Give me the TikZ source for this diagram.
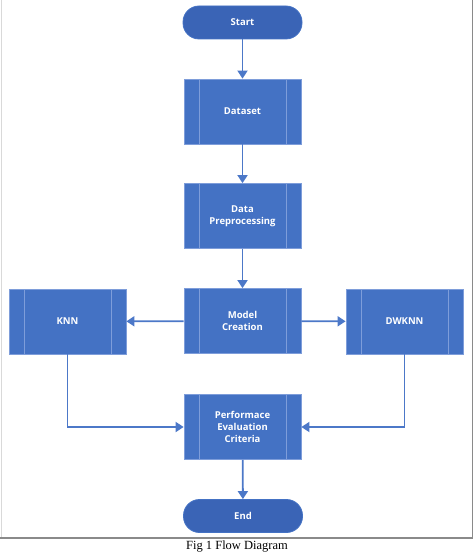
\documentclass[tikz,border=0pt]{standalone}
\usepackage{fontspec}
\setmainfont{Liberation Serif}
\newfontfamily\boxfont{Open Sans}
\usetikzlibrary{arrows.meta}
\definecolor{boxblue}{HTML}{4472C4}
\definecolor{termblue}{HTML}{3A64B6}
\definecolor{edgeblue}{HTML}{7E9DDA}
\definecolor{arrblue}{HTML}{4C78C8}
\definecolor{frame}{HTML}{8A8A8A}
\tikzset{
  procbox/.style={draw=edgeblue, line width=0.8pt, fill=boxblue, minimum width=117pt, minimum height=65pt,
    text=white, align=center, font=\boxfont\bfseries\fontsize{9.5}{12}\selectfont, inner sep=0pt,
    path picture={
      \draw[edgeblue, line width=0.8pt] ([xshift=15pt]path picture bounding box.north west) -- ([xshift=15pt]path picture bounding box.south west);
      \draw[edgeblue, line width=0.8pt] ([xshift=-15pt]path picture bounding box.north east) -- ([xshift=-15pt]path picture bounding box.south east);
    }},
  termbox/.style={draw=boxblue, line width=0.8pt, fill=termblue, rounded corners=16pt, minimum width=119pt, minimum height=33pt,
    text=white, font=\boxfont\bfseries\fontsize{9.5}{12}\selectfont, inner sep=0pt},
  flow/.style={draw=arrblue, line width=1.8pt, -{Triangle[width=10pt,length=8pt]}},
  frameline/.style={draw=frame}
}
\begin{document}
\begin{tikzpicture}[x=1pt, y=-1pt]
\useasboundingbox (0,0) rectangle (474,553);
% frame
\draw[frameline, draw=black!15, line width=0.8pt] (1,0) -- (1,538);
\draw[frameline, line width=1.6pt] (472.5,0) -- (472.5,538);
\draw[frameline, line width=2pt] (0,538) -- (473.3,538);
% nodes
\node[termbox] (start) at (242.5,22.5) {Start};
\node[procbox] (data) at (242.5,111.5) {Dataset};
\node[procbox] (prep) at (242.5,216) {Data\\Preprocessing};
\node[procbox] (model) at (242.5,321) {Model\\Creation};
\node[procbox] (knn) at (67.5,321.5) {KNN};
\node[procbox] (dwknn) at (404.5,321.5) {DWKNN};
\node[procbox] (perf) at (242.5,427) {Performace\\Evaluation\\Criteria};
\node[termbox] (end) at (243,516) {End};
% connectors
\draw[flow] (start) -- (data);
\draw[flow] (data) -- (prep);
\draw[flow] (prep) -- (model);
\draw[flow] (model) -- (knn);
\draw[flow] (model) -- (dwknn);
\draw[flow] (knn.south) |- (perf.west);
\draw[flow] (dwknn.south) |- (perf.east);
\draw[flow] (perf) -- (end);
% caption
\node[anchor=base, font=\fontsize{12.5}{14}\selectfont, inner sep=0pt] (cap) at (237,549.5) {Fig 1 Flow Diagram};
\end{tikzpicture}
\end{document}
